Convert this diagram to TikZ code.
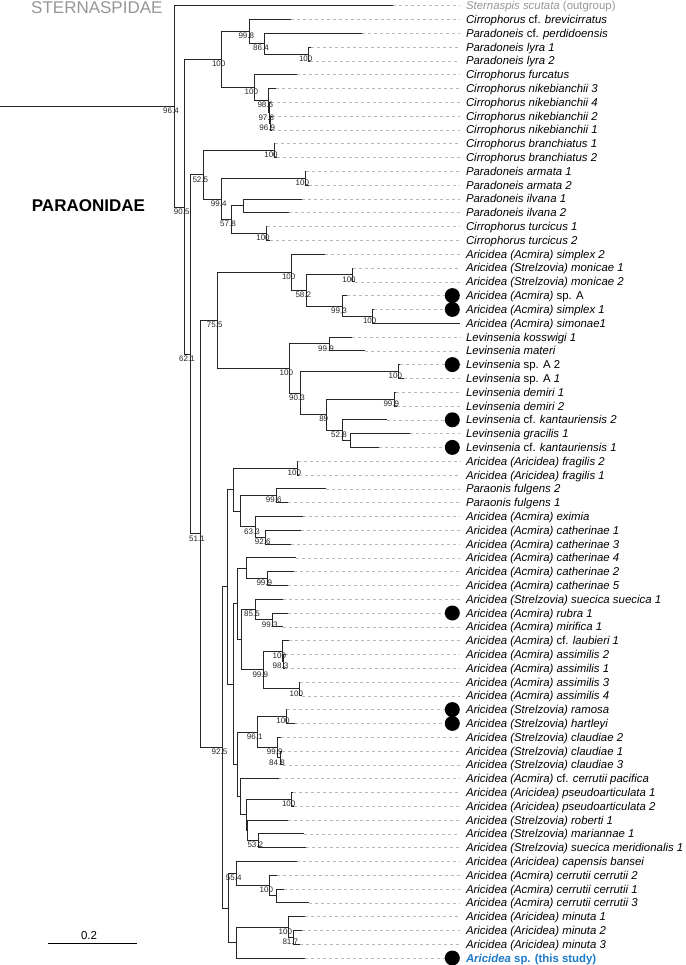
\documentclass[tikz,border=0pt]{standalone}
\usepackage{fontspec}
\setmainfont{Liberation Sans}
\definecolor{sterngray}{RGB}{150,150,150}
\definecolor{studyblue}{RGB}{28,122,200}
\newcommand\Yk[1]{5.8+(#1-1)*13.8}
\tikzset{
  br/.style={draw=black!85, line width=0.9pt},
  dashline/.style={draw=black!28, dash pattern=on 3pt off 3pt, line width=0.6pt},
  leaflab/.style={anchor=base west, inner sep=0pt, outer xsep=6pt, font=\fontsize{11.4}{12}\selectfont},
  bs/.style={font=\fontsize{8}{8.5}\selectfont, inner sep=0pt, text=black!85},
  dotmark/.style={circle, fill=black, inner sep=0pt, minimum size=15pt},
  famlab/.style={anchor=base west, inner sep=0pt, font=\fontsize{17}{18}\selectfont},
}
\newcommand\leaf[4]{%
  \coordinate (#1) at (#3,{\Yk{#2}});
  \node[leaflab] (#1t) at (460,{\Yk{#2}+4}) {#4};
  \draw[dashline] (#1) -- (#1 -| #1t.west);
}
\newcommand\inode[3]{\coordinate (#1) at (#2,{\Yk{#3}});}
\newcommand\blab[2]{\node[bs] (#1b) at ([shift={(-3,4.5)}]#1) {#2};}
\newcommand\edge[3]{\draw[br] (#1) |- (#2) (#1) |- (#3);}
\newcommand\mdot[2]{\node[dotmark] (#1) at (452.3,{\Yk{#2}}) {};}
\begin{document}
\begin{tikzpicture}[x=1pt,y=-1pt]
\useasboundingbox (0,0) rectangle (685,965);
% family labels
\node[famlab, text=sterngray] (fam1) at (31,14) {STERNASPIDAE};
\node[famlab, font=\fontsize{17}{18}\selectfont\bfseries] (fam2) at (31.7,211.7) {PARAONIDAE};
% leaves
\leaf{l1}{1}{393}{\textcolor{sterngray}{\textit{Sternaspis scutata} (outgroup)}}
\leaf{l2}{2}{290.7}{\textit{Cirrophorus} cf. \textit{brevicirratus}}
\leaf{l3}{3}{362.3}{\textit{Paradoneis} cf. \textit{perdidoensis}}
\leaf{l4}{4}{311}{\textit{Paradoneis lyra 1}}
\leaf{l5}{5}{310}{\textit{Paradoneis lyra 2}}
\leaf{l6}{6}{296.7}{\textit{Cirrophorus furcatus}}
\leaf{l7}{7}{275.7}{\textit{Cirrophorus nikebianchii 3}}
\leaf{l8}{8}{271}{\textit{Cirrophorus nikebianchii 4}}
\leaf{l9}{9}{271.5}{\textit{Cirrophorus nikebianchii 2}}
\leaf{l10}{10}{271.5}{\textit{Cirrophorus nikebianchii 1}}
\leaf{l11}{11}{275}{\textit{Cirrophorus branchiatus 1}}
\leaf{l12}{12}{277}{\textit{Cirrophorus branchiatus 2}}
\leaf{l13}{13}{306}{\textit{Paradoneis armata 1}}
\leaf{l14}{14}{309.3}{\textit{Paradoneis armata 2}}
\leaf{l15}{15}{301.7}{\textit{Paradoneis ilvana 1}}
\leaf{l16}{16}{289.3}{\textit{Paradoneis ilvana 2}}
\leaf{l17}{17}{267}{\textit{Cirrophorus turcicus 1}}
\leaf{l18}{18}{270}{\textit{Cirrophorus turcicus 2}}
\leaf{l19}{19}{325}{\textit{Aricidea (Acmira) simplex 2}}
\leaf{l20}{20}{353}{\textit{Aricidea (Strelzovia) monicae 1}}
\leaf{l21}{21}{355}{\textit{Aricidea (Strelzovia) monicae 2}}
\leaf{l22}{22}{346.7}{\textit{Aricidea (Acmira)} sp. A}
\leaf{l23}{23}{374}{\textit{Aricidea (Acmira) simplex 1}}
\leaf{l24}{24}{460}{\textit{Aricidea (Acmira) simonae1}}
\leaf{l25}{25}{351.7}{\textit{Levinsenia kosswigi 1}}
\leaf{l26}{26}{365}{\textit{Levinsenia materi}}
\leaf{l27}{27}{399.5}{\textit{Levinsenia} sp. A 2}
\leaf{l28}{28}{404}{\textit{Levinsenia} sp. A \textit{1}}
\leaf{l29}{29}{395.5}{\textit{Levinsenia demiri 1}}
\leaf{l30}{30}{396.7}{\textit{Levinsenia demiri 2}}
\leaf{l31}{31}{386.7}{\textit{Levinsenia} cf. \textit{kantauriensis 2}}
\leaf{l32}{32}{410}{\textit{Levinsenia gracilis 1}}
\leaf{l33}{33}{379.3}{\textit{Levinsenia} cf. \textit{kantauriensis 1}}
\leaf{l34}{34}{297.8}{\textit{Aricidea (Aricidea) fragilis 2}}
\leaf{l35}{35}{299}{\textit{Aricidea (Aricidea) fragilis 1}}
\leaf{l36}{36}{325.7}{\textit{Paraonis fulgens 2}}
\leaf{l37}{37}{288.3}{\textit{Paraonis fulgens 1}}
\leaf{l38}{38}{302.7}{\textit{Aricidea (Acmira) eximia}}
\leaf{l39}{39}{300.7}{\textit{Aricidea (Acmira) catherinae 1}}
\leaf{l40}{40}{291}{\textit{Aricidea (Acmira) catherinae 3}}
\leaf{l41}{41}{296}{\textit{Aricidea (Acmira) catherinae 4}}
\leaf{l42}{42}{294}{\textit{Aricidea (Acmira) catherinae 2}}
\leaf{l43}{43}{288.3}{\textit{Aricidea (Acmira) catherinae 5}}
\leaf{l44}{44}{283.3}{\textit{Aricidea (Strelzovia) suecica suecica 1}}
\leaf{l45}{45}{287.7}{\textit{Aricidea (Acmira) rubra 1}}
\leaf{l46}{46}{282.7}{\textit{Aricidea (Acmira) mirifica 1}}
\leaf{l47}{47}{289.3}{\textit{Aricidea (Acmira)} cf. \textit{laubieri 1}}
\leaf{l48}{48}{285}{\textit{Aricidea (Acmira) assimilis 2}}
\leaf{l49}{49}{284.5}{\textit{Aricidea (Acmira) assimilis 1}}
\leaf{l50}{50}{299.8}{\textit{Aricidea (Acmira) assimilis 3}}
\leaf{l51}{51}{302}{\textit{Aricidea (Acmira) assimilis 4}}
\leaf{l52}{52}{287}{\textit{Aricidea (Strelzovia) ramosa}}
\leaf{l53}{53}{295}{\textit{Aricidea (Strelzovia) hartleyi}}
\leaf{l54}{54}{280.5}{\textit{Aricidea (Strelzovia) claudiae 2}}
\leaf{l55}{55}{282}{\textit{Aricidea (Strelzovia) claudiae 1}}
\leaf{l56}{56}{283}{\textit{Aricidea (Strelzovia) claudiae 3}}
\leaf{l57}{57}{279.3}{\textit{Aricidea (Acmira)} cf. \textit{cerrutii pacifica}}
\leaf{l58}{58}{292.5}{\textit{Aricidea (Aricidea) pseudoarticulata 1}}
\leaf{l59}{59}{293.5}{\textit{Aricidea (Aricidea) pseudoarticulata 2}}
\leaf{l60}{60}{287.7}{\textit{Aricidea (Strelzovia) roberti 1}}
\leaf{l61}{61}{304}{\textit{Aricidea (Strelzovia) mariannae 1}}
\leaf{l62}{62}{305.7}{\textit{Aricidea (Strelzovia) suecica meridionalis 1}}
\leaf{l63}{63}{296.7}{\textit{Aricidea (Aricidea) capensis bansei}}
\leaf{l64}{64}{276.7}{\textit{Aricidea (Acmira) cerrutii cerrutii 2}}
\leaf{l65}{65}{284.3}{\textit{Aricidea (Acmira) cerrutii cerrutii 1}}
\leaf{l66}{66}{309.3}{\textit{Aricidea (Acmira) cerrutii cerrutii 3}}
\leaf{l67}{67}{305}{\textit{Aricidea (Aricidea) minuta 1}}
\leaf{l68}{68}{301.7}{\textit{Aricidea (Aricidea) minuta 2}}
\leaf{l69}{69}{300.3}{\textit{Aricidea (Aricidea) minuta 3}}
\leaf{l70}{70}{305}{\textcolor{studyblue}{\bfseries\textit{Aricidea} sp. (this study)}}
% internal nodes
\inode{root}{174}{8.2915}
\coordinate (stem) at (0,{\Yk{8.2915}});
\inode{n905}{184.7}{15.583}
\inode{n621}{190}{26.2598}
\inode{n511}{200}{39.2695}
\inode{n925}{222.5}{54.7422}
\inode{n755}{217.7}{23.7969}
\inode{n525}{203.3}{13.25}
\inode{nCa}{221.7}{4.90625}
\inode{n998}{249.3}{2.875}
\inode{n864}{264}{3.75}
\inode{nly}{308.7}{4.5}
\inode{nfu}{254.3}{6.9375}
\inode{n986}{268.3}{7.875}
\inode{n973}{269.3}{8.75}
\inode{n969}{270.2}{9.5}
\inode{nbr}{274}{11.5}
\inode{n994}{221.7}{15}
\inode{nar}{305.3}{13.5}
\inode{n578}{231}{16.5}
\inode{nil}{243.3}{15.5}
\inode{ntu}{266}{17.5}
\inode{nac}{291.7}{20.3125}
\inode{n582}{306.3}{21.625}
\inode{nmo}{352}{20.5}
\inode{n993a}{342}{22.75}
\inode{nsi}{372.7}{23.5}
\inode{nle}{289.3}{27.28125}
\inode{nko}{329}{25.5}
\inode{n903}{300}{29.0625}
\inode{nsa}{398.3}{27.5}
\inode{n89}{326.7}{30.625}
\inode{nde}{394.3}{29.5}
\inode{n528}{342}{31.75}
\inode{nka}{350}{32.5}
\inode{nC}{227.3}{43.109375}
\inode{nA}{233.3}{36.0625}
\inode{nfr}{297.3}{34.5}
\inode{nB}{240}{37.625}
\inode{nfg}{276.7}{36.5}
\inode{n633}{255}{38.75}
\inode{n926}{265.7}{39.5}
\inode{nD}{233.3}{50.15625}
\inode{nE}{237.3}{44.34375}
\inode{nF}{246.7}{41.75}
\inode{n999a}{267.3}{42.5}
\inode{nG}{241.7}{46.9375}
\inode{n855}{255}{44.75}
\inode{n993b}{272.7}{45.5}
\inode{n999b}{263.3}{49.125}
\inode{nla}{282.3}{47.75}
\inode{n983}{283.5}{48.5}
\inode{nas}{299.3}{50.5}
\inode{nH}{237.3}{55.96875}
\inode{n961}{257.7}{53.625}
\inode{nrh}{286}{52.5}
\inode{n999c}{277.7}{54.75}
\inode{n848}{280}{55.5}
\inode{nI}{240}{58.3125}
\inode{nJ}{246}{59.625}
\inode{nps}{291.7}{58.5}
\inode{nK}{247.7}{60.75}
\inode{n532}{258.3}{61.5}
\inode{nL}{228.3}{66.375}
\inode{n554}{236.7}{63.875}
\inode{nce}{269.3}{64.75}
\inode{nN}{276.7}{65.5}
\inode{nM}{236.7}{68.875}
\inode{nmi}{288.3}{67.75}
\inode{n817}{293.3}{68.5}
% branches
\draw[br] (stem) -- (root);
\edge{root}{l1}{n905}
\edge{n905}{nCa}{n621}
\edge{nCa}{n998}{nfu}
\edge{n998}{l2}{n864}
\edge{n864}{l3}{nly}
\edge{nly}{l4}{l5}
\edge{nfu}{l6}{n986}
\edge{n986}{l7}{n973}
\edge{n973}{l8}{n969}
\edge{n969}{l9}{l10}
\edge{n621}{n525}{n511}
\edge{n525}{nbr}{n994}
\edge{nbr}{l11}{l12}
\edge{n994}{nar}{n578}
\edge{nar}{l13}{l14}
\edge{n578}{nil}{ntu}
\edge{nil}{l15}{l16}
\edge{ntu}{l17}{l18}
\edge{n511}{n755}{n925}
\edge{n755}{nac}{nle}
\edge{nac}{l19}{n582}
\edge{n582}{nmo}{n993a}
\edge{nmo}{l20}{l21}
\edge{n993a}{l22}{nsi}
\edge{nsi}{l23}{l24}
\edge{nle}{nko}{n903}
\edge{nko}{l25}{l26}
\edge{n903}{nsa}{n89}
\edge{nsa}{l27}{l28}
\edge{n89}{nde}{n528}
\edge{nde}{l29}{l30}
\edge{n528}{l31}{nka}
\edge{nka}{l32}{l33}
\edge{n925}{nC}{nL}
\edge{nC}{nA}{nD}
\edge{nA}{nfr}{nB}
\edge{nfr}{l34}{l35}
\edge{nB}{nfg}{n633}
\edge{nfg}{l36}{l37}
\edge{n633}{l38}{n926}
\edge{n926}{l39}{l40}
\edge{nD}{nE}{nH}
\edge{nE}{nF}{nG}
\edge{nF}{l41}{n999a}
\edge{n999a}{l42}{l43}
\edge{nG}{n855}{n999b}
\edge{n855}{l44}{n993b}
\edge{n993b}{l45}{l46}
\edge{n999b}{nla}{nas}
\edge{nla}{l47}{n983}
\edge{n983}{l48}{l49}
\edge{nas}{l50}{l51}
\edge{nH}{n961}{nI}
\edge{n961}{nrh}{n999c}
\edge{nrh}{l52}{l53}
\edge{n999c}{l54}{n848}
\edge{n848}{l55}{l56}
\edge{nI}{l57}{nJ}
\edge{nJ}{nps}{nK}
\edge{nps}{l58}{l59}
\edge{nK}{l60}{n532}
\edge{n532}{l61}{l62}
\edge{nL}{n554}{nM}
\edge{n554}{l63}{nce}
\edge{nce}{l64}{nN}
\edge{nN}{l65}{l66}
\edge{nM}{nmi}{l70}
\edge{nmi}{l67}{n817}
\edge{n817}{l68}{l69}
% support values
\blab{root}{96.4}
\blab{n905}{90.5}
\blab{n621}{62.1}
\blab{n511}{51.1}
\blab{n925}{92.5}
\blab{n755}{75.5}
\blab{n525}{52.5}
\blab{nCa}{100}
\blab{n998}{99.8}
\blab{n864}{86.4}
\blab{nly}{100}
\blab{nfu}{100}
\blab{n986}{98.6}
\blab{n973}{97.3}
\blab{n969}{96.9}
\blab{nbr}{100}
\blab{n994}{99.4}
\blab{nar}{100}
\blab{n578}{57.8}
\blab{ntu}{100}
\blab{nac}{100}
\blab{n582}{58.2}
\blab{nmo}{100}
\blab{n993a}{99.3}
\blab{nsi}{100}
\blab{nle}{100}
\blab{nko}{99.9}
\blab{n903}{90.3}
\blab{nsa}{100}
\blab{n89}{89}
\blab{nde}{99.9}
\blab{n528}{52.8}
\blab{nfr}{100}
\blab{nfg}{99.6}
\blab{n633}{63.3}
\blab{n926}{92.6}
\blab{n999a}{99.9}
\blab{n855}{85.5}
\blab{n993b}{99.3}
\blab{nla}{100}
\blab{n983}{98.3}
\blab{n999b}{99.9}
\blab{nas}{100}
\blab{nrh}{100}
\blab{n961}{96.1}
\blab{n999c}{99.9}
\blab{n848}{84.8}
\blab{nps}{100}
\blab{n532}{53.2}
\blab{n554}{55.4}
\blab{nce}{100}
\blab{nmi}{100}
\blab{n817}{81.7}
% study markers
\mdot{d22}{22}
\mdot{d23}{23}
\mdot{d27}{27}
\mdot{d31}{31}
\mdot{d33}{33}
\mdot{d45}{45}
\mdot{d52}{52}
\mdot{d53}{53}
\mdot{d70}{70}
% scale bar
\coordinate (sbl) at (47.7,943.3);
\coordinate (sbr) at (136.7,943.3);
\draw[draw=black, line width=0.9pt] (sbl) -- (sbr);
\node[inner sep=0pt, anchor=base, font=\fontsize{11.5}{12}\selectfont] (sbt) at (89,939) {0.2};
\end{tikzpicture}
\end{document}
